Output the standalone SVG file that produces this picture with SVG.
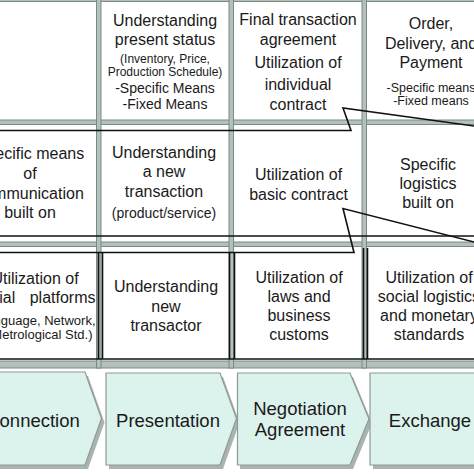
<svg xmlns="http://www.w3.org/2000/svg" width="474" height="474" viewBox="0 0 474 474">
<style>
text{font-family:"Liberation Sans",Arial,sans-serif;fill:#1a1a1a;text-anchor:middle}
.m{font-size:16px}
.s{font-size:12px}
.t{font-size:14px}
.c{font-size:18.5px}
.bar{fill:#b3c1ba;stroke:#7b8b84;stroke-width:1}
.blk{fill:none;stroke:#111;stroke-width:1.6}
.chev{fill:#dcf2ed;stroke:#8d9a95;stroke-width:1.2}
.shadow{fill:#a9b3b0}
</style>
<rect width="474" height="474" fill="#ffffff"/>
<g id="grid">
<rect class="bar" x="-5" y="-1" width="484" height="2.5"/>
<rect class="bar" x="-5" y="120" width="484" height="4.5"/>
<rect class="bar" x="-5" y="242" width="484" height="4.5"/>
<rect class="bar" x="-5" y="361" width="484" height="7"/>
<rect class="bar" x="96.5" y="-1" width="4.5" height="369"/>
<rect class="bar" x="229" y="-1" width="4.5" height="369"/>
<rect class="bar" x="362" y="-1" width="4.5" height="369"/>
</g>
<g id="connectors">
<polyline class="blk" points="-5,130.5 351,130.5 343,108 480,126.8"/>
<line class="blk" x1="-5" y1="236" x2="480" y2="236"/>
<polyline class="blk" points="-5,252.5 354,252.5 343,208.5 480,243.5"/>
<line class="blk" x1="-5" y1="359" x2="480" y2="359"/>
<line class="blk" x1="98.5" y1="252.5" x2="98.5" y2="359"/>
<line class="blk" x1="102.5" y1="252.5" x2="102.5" y2="359"/>
<line class="blk" x1="229.5" y1="252.5" x2="229.5" y2="359"/>
<line class="blk" x1="234.5" y1="252.5" x2="234.5" y2="359"/>
<line class="blk" x1="363.5" y1="248" x2="363.5" y2="359"/>
<line class="blk" x1="367.5" y1="248" x2="367.5" y2="359"/>
</g>
<g id="r1c2">
<text class="m" x="165" y="26">Understanding</text>
<text class="m" x="165" y="45">present status</text>
<text class="s" x="165" y="62.5">(Inventory, Price,</text>
<text class="s" x="165" y="76">Production Schedule)</text>
<text class="t" x="165" y="92.5">-Specific Means</text>
<text class="t" x="165" y="109">-Fixed Means</text>
</g>
<g id="r1c3">
<text class="m" x="298" y="25">Final transaction</text>
<text class="m" x="298" y="44.5">agreement</text>
<text class="m" x="298" y="68">Utilization of</text>
<text class="m" x="298" y="89.5">individual</text>
<text class="m" x="298" y="109.5">contract</text>
</g>
<g id="r1c4">
<text class="m" x="431" y="29">Order,</text>
<text class="m" x="431" y="48.5">Delivery, and</text>
<text class="m" x="431" y="68">Payment</text>
<text style="font-size:12.5px" x="431" y="91.5">-Specific means</text>
<text style="font-size:12.5px" x="431" y="105">-Fixed means</text>
</g>
<g id="r2c1">
<text class="m" x="30" y="159">Specific means</text>
<text class="m" x="30" y="179">of</text>
<text class="m" x="30" y="198.5">communication</text>
<text class="m" x="30" y="218">built on</text>
</g>
<g id="r2c2">
<text class="m" x="164" y="158">Understanding</text>
<text class="m" x="164" y="177">a new</text>
<text class="m" x="164" y="196.5">transaction</text>
<text class="t" x="164" y="218">(product/service)</text>
</g>
<g id="r2c3">
<text class="m" x="298.5" y="180">Utilization of</text>
<text class="m" x="298.5" y="199.5">basic contract</text>
</g>
<g id="r2c4">
<text class="m" x="428" y="170">Specific</text>
<text class="m" x="428" y="189">logistics</text>
<text class="m" x="428" y="208">built on</text>
</g>
<g id="r3c1">
<text class="m" x="35" y="283.5">Utilization of</text>
<text class="m" x="95.5" y="302.5" style="text-anchor:end;word-spacing:10px">social platforms</text>
<text x="95.5" y="325" style="text-anchor:end;font-size:13px">(Language, Network,</text>
<text x="92.5" y="338.5" style="text-anchor:end;font-size:13px">Metrological Std.)</text>
</g>
<g id="r3c2">
<text class="m" x="166" y="292">Understanding</text>
<text class="m" x="166" y="311.5">new</text>
<text class="m" x="166" y="331">transactor</text>
</g>
<g id="r3c3">
<text class="m" x="299" y="282.5">Utilization of</text>
<text class="m" x="299" y="302">laws and</text>
<text class="m" x="299" y="321">business</text>
<text class="m" x="299" y="340">customs</text>
</g>
<g id="r3c4">
<text class="m" x="429" y="282.5">Utilization of</text>
<text class="m" x="429" y="302">social logistics</text>
<text class="m" x="429" y="321">and monetary</text>
<text class="m" x="429" y="340">standards</text>
</g>
<g id="chevron-connection">
<polygon class="shadow" points="-10,376 88,376 104.5,422.5 88,469 -10,469"/>
<polygon class="chev" points="-10,372 85,372 101.5,418.5 85,465 -10,465"/>
<text class="c" x="33" y="427">Connection</text>
</g>
<g id="chevron-presentation">
<polygon class="shadow" points="109,377 223,377 239.5,422.5 223,469 109,469"/>
<polygon class="chev" points="106,373 220,373 236.5,418.5 220,465 106,465"/>
<text class="c" x="168" y="427">Presentation</text>
</g>
<g id="chevron-negotiation">
<polygon class="shadow" points="240,377 353,377 372,423 353,469 240,469"/>
<polygon class="chev" points="237.5,373 350,373 369,419 350,465 237.5,465"/>
<text class="c" x="300" y="414.5">Negotiation</text>
<text class="c" x="300" y="436">Agreement</text>
</g>
<g id="chevron-exchange">
<polygon class="shadow" points="373,377 480,377 480,469 373,469"/>
<polygon class="chev" points="370,373 480,373 480,465 370,465"/>
<text class="c" x="430" y="426.5">Exchange</text>
</g>
</svg>
